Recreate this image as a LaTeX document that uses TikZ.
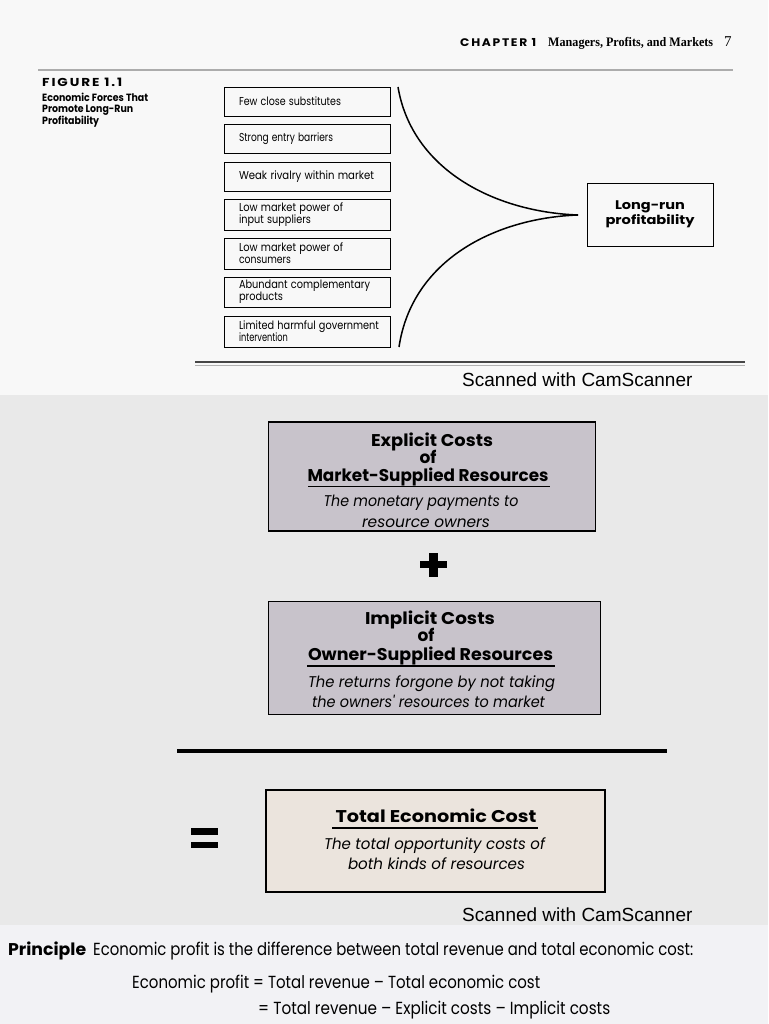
\documentclass[tikz,border=0pt]{standalone}
\usepackage{fontspec}
\newfontfamily\fut{Poppins}
\newfontfamily\serf{Liberation Serif}
\newfontfamily\arl{Liberation Sans}
\newcommand\hfit[2]{\resizebox{#1}{\height}{#2}}
\newcommand\mns{\textendash}
\definecolor{lav}{HTML}{C8C3CB}
\definecolor{beig}{HTML}{EBE4DD}
\definecolor{midbg}{HTML}{E9E9E9}
\definecolor{botbg}{HTML}{F2F2F5}
\definecolor{topbg}{HTML}{F8F8F8}
\tikzset{
  txt/.style={inner sep=0pt, anchor=base},
  txtw/.style={inner sep=0pt, anchor=base west},
  forcebox/.style={draw, line width=0.9pt, minimum width=166pt, minimum height=30pt,
    text width=136pt, inner xsep=15pt, inner ysep=0pt, align=left,
    font=\fut\fontsize{11.5}{12}\selectfont},
  costbox/.style={draw, line width=1.3pt},
  curve/.style={line width=1.5pt},
  scan/.style={inner sep=0pt, anchor=base west, font=\arl\fontsize{19}{22}\selectfont},
  head/.style={font=\fut\bfseries\fontsize{17}{20}\selectfont},
  ital/.style={font=\fut\itshape\fontsize{15.5}{18}\selectfont},
  body/.style={font=\fut\fontsize{17.5}{20}\selectfont}
}
\begin{document}
\begin{tikzpicture}[x=1pt,y=-1pt]
\useasboundingbox (0,0) rectangle (768,1024);
\fill[topbg] (0,0) rectangle (768,395);
\fill[midbg] (0,395) rectangle (768,925);
\fill[botbg] (0,925) rectangle (768,1024);

% ---------- page header ----------
\node[txtw] (chap) at (460,47) {\hfit{76pt}{\fut\bfseries\fontsize{11}{12}\selectfont\addfontfeature{LetterSpace=14}CHAPTER 1}};
\node[txtw] (title) at (548,47) {\hfit{165pt}{\serf\bfseries\fontsize{13}{14}\selectfont Managers, Profits, and Markets}};
\node[txtw] (pg) at (724,47) {\serf\fontsize{15}{16}\selectfont 7};
\draw[gray!65, line width=1.3pt] (38,70) -- (733,70);

% ---------- figure 1.1 ----------
\node[txtw] (fig) at (42,87) {\hfit{80pt}{\fut\bfseries\fontsize{11.5}{12}\selectfont\addfontfeature{LetterSpace=14}FIGURE 1.1}};
\node[txtw] (cap1) at (42,102) {\hfit{106pt}{\fut\bfseries\fontsize{10.5}{11}\selectfont Economic Forces That}};
\node[txtw] (cap2) at (42,113) {\hfit{91pt}{\fut\bfseries\fontsize{10.5}{11}\selectfont Promote Long-Run}};
\node[txtw] (cap3) at (42,125) {\hfit{57pt}{\fut\bfseries\fontsize{10.5}{11}\selectfont Profitability}};

\node[forcebox, minimum height=29pt] (f1) at (307,101.5) {\hfit{102pt}{Few close substitutes}};
\node[forcebox, minimum height=29pt] (f2) at (307,138.5) {\hfit{94pt}{Strong entry barriers}};
\node[forcebox, minimum height=29pt] (f3) at (307,176.5) {\hfit{135pt}{Weak rivalry within market}};
\node[forcebox, minimum height=31pt] (f4) at (307,214.5) {\hfit{104pt}{Low market power of}\\\hfit{72pt}{input suppliers}};
\node[forcebox, minimum height=31pt] (f5) at (307,253.5) {\hfit{104pt}{Low market power of}\\\hfit{52pt}{consumers}};
\node[forcebox, minimum height=30pt] (f6) at (307,292) {\hfit{131pt}{Abundant complementary}\\\hfit{44pt}{products}};
\node[forcebox, minimum height=31pt] (f7) at (307,331.5) {\hfit{140pt}{Limited harmful government}\\\hfit{49pt}{intervention}};

\coordinate (ctop) at (398,87);
\coordinate (cbot) at (399,347);
\node[draw, line width=0.9pt, minimum width=126pt, minimum height=63pt, inner sep=0pt, align=center,
  font=\fut\bfseries\fontsize{12.5}{15}\selectfont] (lr) at (650,214.5)
  {\hfit{70pt}{Long-run}\\\hfit{89pt}{profitability}};
\coordinate (tip) at (578,215);
\draw[curve] (ctop) .. controls (412,170) and (495,212) .. (tip);
\draw[curve] (cbot) .. controls (412,260) and (495,218) .. (tip);

\draw[gray!55!black, line width=1.1pt] (195,362) -- (745,362);
\draw[gray!60, line width=1.1pt] (195,365.5) -- (745,365.5);
\node[scan] (scan1) at (462,386) {Scanned with CamScanner};

% ---------- cost boxes ----------
\node[costbox, fill=lav, minimum width=327pt, minimum height=109pt] (exp) at (432,476.5) {};
\node[txt, head] (e1) at (432,446) {\hfit{122pt}{Explicit Costs}};
\node[txt, head] (e2) at (428,463) {of};
\node[txt, head] (e3) at (428,481) {\hfit{241pt}{Market-Supplied Resources}};
\draw[line width=1.4pt] (308,486.5) -- (550,486.5);
\node[txt, ital] (e4) at (421,506) {\hfit{195pt}{The monetary payments to}};
\node[txt, ital] (e5) at (426,527) {\hfit{128pt}{resource owners}};

\fill (420,561) rectangle (447,568);
\fill (429,553) rectangle (438,577);

\node[costbox, fill=lav, minimum width=332pt, minimum height=113pt] (imp) at (434.5,658) {};
\node[txt, head] (i1) at (430,624) {\hfit{130pt}{Implicit Costs}};
\node[txt, head] (i2) at (426,641) {of};
\node[txt, head] (i3) at (430.5,660) {\hfit{245pt}{Owner-Supplied Resources}};
\draw[line width=1.4pt] (307,666) -- (555,666);
\node[txt, ital] (i4) at (431.5,687) {\hfit{247pt}{The returns forgone by not taking}};
\node[txt, ital] (i5) at (428.5,707) {\hfit{233pt}{the owners' resources to market}};

\draw[line width=4pt] (177,751) -- (667,751);

\fill (191,828) rectangle (218,835);
\fill (191,842) rectangle (218,848);

\node[costbox, fill=beig, line width=1.1pt, minimum width=339pt, minimum height=102pt] (tot) at (435.5,841) {};
\node[txt, head] (t1) at (436,822) {\hfit{201pt}{Total Economic Cost}};
\draw[line width=1.4pt] (332,828) -- (538,828);
\node[txt, ital] (t2) at (434.5,849) {\hfit{221pt}{The total opportunity costs of}};
\node[txt, ital] (t3) at (436.5,869) {\hfit{177pt}{both kinds of resources}};

\node[scan] (scan2) at (462,921) {Scanned with CamScanner};

% ---------- principle ----------
\node[txtw] (pr) at (8,955) {\hfit{78pt}{\fut\bfseries\fontsize{17}{18}\selectfont Principle}};
\node[txtw, body] (pt) at (93,955) {\hfit{600pt}{Economic profit is the difference between total revenue and total economic cost:}};
\node[txtw, body] (eq1) at (132,988) {\hfit{408pt}{Economic profit = Total revenue \mns{} Total economic cost}};
\node[txtw, body] (eq2) at (258,1014) {\hfit{352pt}{= Total revenue \mns{} Explicit costs \mns{} Implicit costs}};
\end{tikzpicture}
\end{document}
